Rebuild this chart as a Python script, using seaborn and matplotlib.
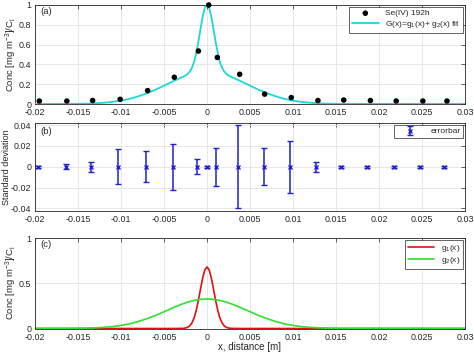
import numpy as np
import pandas as pd
import matplotlib
matplotlib.use('Agg')
import matplotlib.pyplot as plt
import seaborn as sns

# measured points, panel (a)
x_pts = [-0.0195, -0.0163, -0.0133, -0.0101, -0.0069, -0.0038, -0.0010, 0.0002, 0.0012,
         0.0038, 0.0067, 0.0098, 0.0129, 0.0159, 0.0190, 0.0220, 0.0251, 0.0279]
y_pts = [0.03, 0.03, 0.035, 0.047, 0.135, 0.27, 0.535, 1.0, 0.47,
         0.30, 0.10, 0.065, 0.035, 0.04, 0.035, 0.03, 0.03, 0.03]

# fitted curves
x_fit = [-0.02, -0.016, -0.015, -0.014, -0.013, -0.012, -0.011, -0.010, -0.009, -0.008,
         -0.007, -0.006, -0.005, -0.004, -0.003, -0.00275, -0.0025, -0.00225, -0.002,
         -0.00175, -0.0015, -0.00125, -0.001, -0.00075, -0.0005, -0.00025, 0.0,
         0.00025, 0.0005, 0.00075, 0.001, 0.00125, 0.0015, 0.00175, 0.002, 0.00225,
         0.0025, 0.00275, 0.003, 0.004, 0.005, 0.006, 0.007, 0.008, 0.009, 0.010,
         0.011, 0.012, 0.013, 0.014, 0.015, 0.016, 0.03]
g1 = [0, 0, 0, 0, 0, 0, 0, 0, 0, 0,
      0, 0, 0, 0, 0.001, 0.002, 0.005, 0.013, 0.030,
      0.062, 0.117, 0.201, 0.311, 0.438, 0.559, 0.648, 0.68,
      0.648, 0.559, 0.438, 0.311, 0.201, 0.117, 0.062, 0.030, 0.013,
      0.005, 0.002, 0.001, 0, 0, 0, 0, 0, 0, 0,
      0, 0, 0, 0, 0, 0, 0]
g2 = [0, 0.001, 0.002, 0.004, 0.007, 0.0125, 0.021, 0.034, 0.052, 0.077,
      0.108, 0.144, 0.185, 0.227, 0.266, 0.275, 0.283, 0.291, 0.298,
      0.304, 0.310, 0.315, 0.319, 0.322, 0.324, 0.3255, 0.326,
      0.3255, 0.324, 0.322, 0.319, 0.315, 0.310, 0.304, 0.298, 0.291,
      0.283, 0.275, 0.266, 0.227, 0.185, 0.144, 0.108, 0.077, 0.052, 0.034,
      0.021, 0.0125, 0.007, 0.004, 0.002, 0.001, 0]
G = [0, 0.001, 0.002, 0.004, 0.007, 0.0125, 0.021, 0.034, 0.052, 0.077,
     0.108, 0.144, 0.185, 0.227, 0.267, 0.277, 0.288, 0.304, 0.328,
     0.366, 0.427, 0.516, 0.630, 0.760, 0.883, 0.974, 1.0,
     0.974, 0.883, 0.760, 0.630, 0.516, 0.427, 0.366, 0.328, 0.304,
     0.288, 0.277, 0.267, 0.227, 0.185, 0.144, 0.108, 0.077, 0.052, 0.034,
     0.021, 0.0125, 0.007, 0.004, 0.002, 0.001, 0]

# standard deviation, panel (b)
x_err = [-0.0196, -0.0164, -0.0135, -0.0103, -0.0071, -0.0040, -0.0012, 0.0, 0.0010,
         0.0036, 0.0066, 0.0097, 0.0127, 0.0156, 0.0186, 0.0218, 0.0248, 0.0276]
y_err = [0] * 18
err = [0.001, 0.0026, 0.005, 0.017, 0.015, 0.022, 0.007, 0.0008, 0.018,
       0.040, 0.0176, 0.0248, 0.0048, 0.0012, 0.0012, 0.0012, 0.0008, 0.0008]

xticks = [-0.02, -0.015, -0.01, -0.005, 0, 0.005, 0.01, 0.015, 0.02, 0.025, 0.03]
xticklabels = ['-0.02', '-0.015', '-0.01', '-0.005', '0', '0.005', '0.01', '0.015', '0.02', '0.025', '0.03']

sns.set_style('whitegrid')
plt.rcParams['font.family'] = ['Liberation Sans', 'DejaVu Sans']
plt.rcParams['mathtext.fontset'] = 'custom'
plt.rcParams['mathtext.rm'] = 'Liberation Sans'
plt.rcParams['mathtext.it'] = 'Liberation Sans'

fig = plt.figure(figsize=(4.74, 3.53), dpi=100)
L, W = 35 / 474, 430 / 474
ax1 = fig.add_axes([L, 1 - 104 / 353, W, 99 / 353])
ax2 = fig.add_axes([L, 1 - 210.5 / 353, W, 87.5 / 353])
ax3 = fig.add_axes([L, 1 - 328.5 / 353, W, 90.5 / 353])

fit = pd.DataFrame({'x': x_fit, 'g1': g1, 'g2': g2, 'G': G})

# (a)
sns.scatterplot(x=x_pts, y=y_pts, ax=ax1, color='black', s=16, edgecolor='none',
                label='Se(IV) 192h', zorder=4, clip_on=False)
sns.lineplot(data=fit, x='x', y='G', ax=ax1, color='#19d9d9', lw=1.3,
             label='G(x)=g$_1$(x)+ g$_2$(x) fit', zorder=3)
ax1.set_ylim(0, 1)
ax1.set_yticks([0, 0.2, 0.4, 0.6, 0.8, 1])
ax1.set_yticklabels(['0', '0.2', '0.4', '0.6', '0.8', '1'])
ax1.set_ylabel('Conc [mg m$^{-3}$]/C$_i$')

# (b)
ax2.errorbar(x_err, y_err, yerr=err, fmt='x', color='#2020d0', ms=3, mew=1,
             elinewidth=1.1, capsize=2.2, capthick=1.1, label='errorbar')
ax2.set_ylim(-0.042, 0.042)
ax2.set_yticks([-0.04, -0.02, 0, 0.02, 0.04])
ax2.set_yticklabels(['-0.04', '-0.02', '0', '0.02', '0.04'])
ax2.set_ylabel('Standard deviation')

# (c)
sns.lineplot(data=fit, x='x', y='g1', ax=ax3, color='#e01010', lw=1.2, label='g$_1$(x)')
sns.lineplot(data=fit, x='x', y='g2', ax=ax3, color='#30e030', lw=1.2, label='g$_2$(x)')
ax3.set_ylim(0, 1)
ax3.set_yticks([0, 0.5, 1])
ax3.set_yticklabels(['0', '0.5', '1'])
ax3.set_ylabel('Conc [mg m$^{-3}$]/C$_i$')
ax3.set_xlabel('x, distance [m]', fontsize=7, labelpad=0.5)

for ax, tag in zip([ax1, ax2, ax3], ['(a)', '(b)', '(c)']):
    ax.set_xlim(-0.02, 0.03)
    ax.set_xticks(xticks)
    ax.set_xticklabels(xticklabels)
    if ax is not ax3:
        ax.set_xlabel('')
    ax.yaxis.label.set_size(6.8 if ax is not ax2 else 6.5)
    ax.yaxis.label.set_verticalalignment('center')
    ax.yaxis.set_label_coords(-0.054 if ax is not ax2 else -0.067, 0.5)
    ax.tick_params(direction='in', length=3, width=0.5, labelsize=6.4,
                   top=True, right=True, colors='#262626')
    ax.tick_params(axis='x', pad=3)
    ax.tick_params(axis='y', pad=2.5)
    ax.grid(True, color='#e3e3e3', lw=0.6)
    for sp in ax.spines.values():
        sp.set_color('#262626')
        sp.set_linewidth(0.6)
    ax.text(0.012, 0.93 if ax is not ax2 else 0.9, tag, transform=ax.transAxes,
            fontsize=6.8, va='center', ha='left')
    leg = ax.legend(loc='upper right', fontsize=6, fancybox=False, framealpha=1,
                    edgecolor='#262626', borderpad=0.3, handlelength=3.2,
                    labelspacing=0.2, handletextpad=0.8, borderaxespad=0.25)
    leg.get_frame().set_linewidth(0.5)

fig.savefig('out.png', dpi=100)
